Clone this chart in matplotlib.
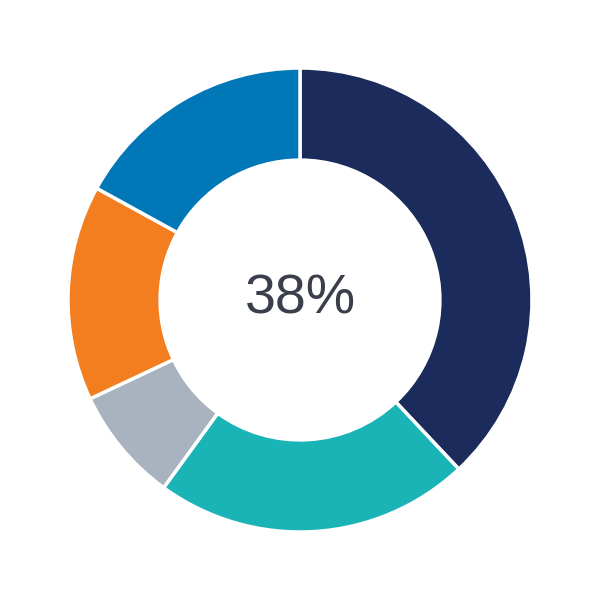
import matplotlib
matplotlib.use('Agg')
import matplotlib.pyplot as plt

# share of each segment, clockwise from 12 o'clock
labels = ['Navy', 'Teal', 'Gray', 'Orange', 'Blue']
shares = [38, 22, 8, 15, 17]
colors = ['#1b2b5b', '#1ab3b6', '#a9b3c0', '#f37e20', '#0077b6']
center_label = '38%'

fig = plt.figure(figsize=(6, 6), dpi=100)
ax = fig.add_axes([0, 0, 1, 1])

ax.pie(shares, colors=colors, startangle=90, counterclock=False,
       radius=1.0,
       wedgeprops=dict(width=0.397, edgecolor='white', linewidth=2.5))

ax.text(0, 0, center_label, ha='center', va='center',
        fontsize=40, color='#3a3f4b', family=['Liberation Sans', 'DejaVu Sans'])

lim = 300 / 232
ax.set_xlim(-lim, lim)
ax.set_ylim(-lim, lim)
ax.set_aspect('equal')
ax.axis('off')

fig.savefig('out.png', dpi=100, facecolor='white')
